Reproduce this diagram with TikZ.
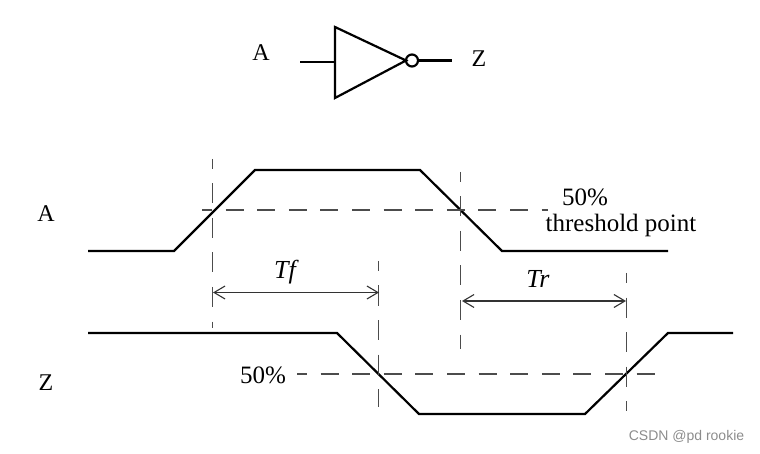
\documentclass[tikz,border=0pt]{standalone}
\usepackage{fontspec}
\setmainfont{Liberation Serif}
\newfontfamily\marksans{Liberation Sans}
\usetikzlibrary{arrows.meta}
\tikzset{
    wave/.style={line width=2.2pt, line join=miter},
    gate/.style={line width=2.2pt},
    hguide/.style={line width=1.2pt, black!70, dash pattern=on 18pt off 13.6pt, dash phase=8pt},
    vguide/.style={line width=1.2pt, black!70, dash pattern=on 20pt off 14.5pt, dash phase=10pt},
    span/.style={line width=1.1pt, black!80, {Straight Barb[length=11pt,width=13pt]}-{Straight Barb[length=11pt,width=13pt]}},
    sig/.style={font=\fontsize{24}{24}\selectfont, inner sep=0pt},
    note/.style={font=\fontsize{25}{25}\selectfont, inner sep=0pt},
    delay/.style={font=\fontsize{26}{26}\selectfont\itshape, inner sep=0pt},
    creditmark/.style={font=\marksans\fontsize{14}{14}\selectfont, text=black!45, inner sep=0pt},
}
\begin{document}
\begin{tikzpicture}[x=1pt, y=-1pt]
    \useasboundingbox (0,0) rectangle (760,454);
    % Inverter
    \coordinate (gatetop) at (335,27);
    \coordinate (gatebot) at (335,98);
    \coordinate (gatetip) at (406,60.5);
    \node (bubble) [draw, gate, circle, minimum size=12pt, inner sep=0pt] at (412,60.5) {};
    \coordinate (gatein) at (300,62);
    \coordinate (gatepin) at (335,62);
    \coordinate (gateout) at (452,60.5);
    \draw [gate, line join=miter] (gatetop) -- (gatetip) -- (gatebot) -- cycle;
    \draw [gate] (gatein) -- (gatepin);
    \draw [gate] (bubble.east) -- (gateout);
    \node (gateA) [sig] at (261,53) {A};
    \node (gateZ) [sig] at (479,58.5) {Z};
    % Waveforms
    \draw [wave] (88,251) -- (174,251) -- (255,170) -- (420,170) -- (502,251) -- (668,251);
    \draw [wave] (88,333) -- (337,333) -- (419,414) -- (585,414) -- (668,333) -- (733,333);
    % Guide lines
    \draw [vguide] (212.5,159) -- (212.5,328);
    \draw [vguide] (378.5,261) -- (378.5,407);
    \draw [vguide] (460.5,172) -- (460.5,349);
    \draw [vguide] (626.5,273) -- (626.5,411);
    \draw [hguide] (202,210) -- (548,210);
    \draw [hguide] (297,374) -- (655,374);
    % Delays
    \coordinate (tfleft) at (213,292.5);
    \coordinate (tfright) at (379,292.5);
    \coordinate (trleft) at (462,301);
    \coordinate (trright) at (626,301);
    \draw [span] (tfleft) -- (tfright);
    \draw [span] (trleft) -- (trright);
    \node (tf) [delay] at (285,272) {Tf};
    \node (tr) [delay] at (538,279) {Tr};
    % Labels
    \node (sigA) [sig] at (46,214) {A};
    \node (sigZ) [sig] at (46,383) {Z};
    \node (halfA) [note] at (585,197) {50\%};
    \node (thresh) [note] at (621,225) {threshold point};
    \node (halfZ) [note] at (263,375) {50\%};
    \node (credit) [creditmark] at (686.5,437) {CSDN @pd rookie};
\end{tikzpicture}
\end{document}
